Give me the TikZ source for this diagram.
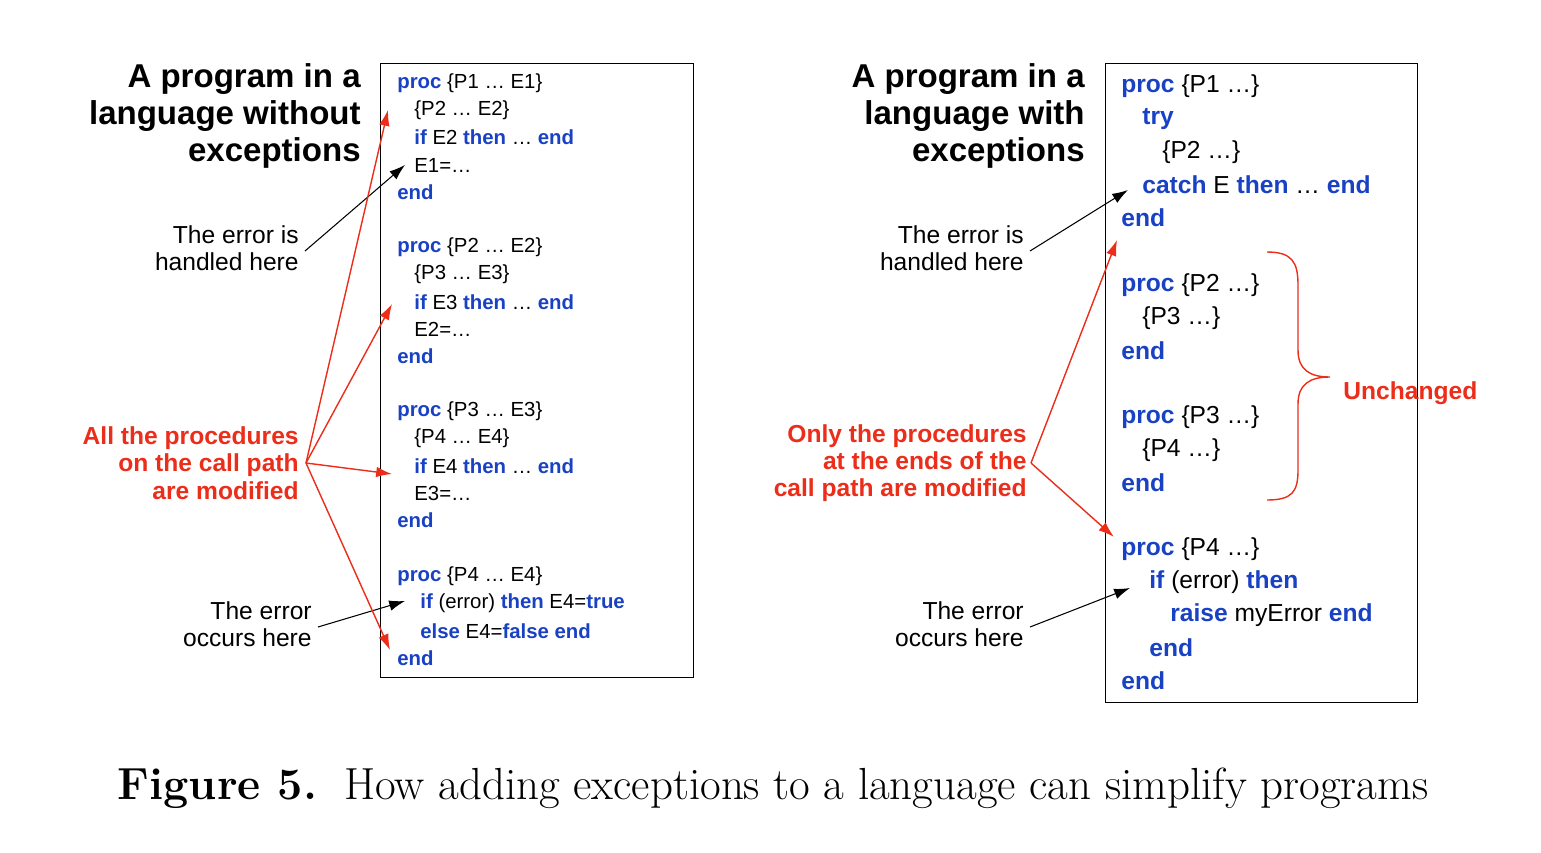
\documentclass[tikz,border=0pt]{standalone}
\usepackage{fontspec}
\newfontfamily\arial{Liberation Sans}
\usetikzlibrary{arrows.meta}
\definecolor{kw}{RGB}{25,65,195}
\definecolor{rd}{RGB}{235,45,25}
\begin{document}
\begin{tikzpicture}[x=0.02cm,y=-0.02cm,
 code/.style={anchor=west,inner sep=0,font=\arial\fontsize{11.6}{13}\selectfont},
 codeb/.style={anchor=west,inner sep=0,font=\arial\fontsize{14}{15}\selectfont},
 ttl/.style={anchor=east,inner sep=0,align=right,font=\arial\bfseries\fontsize{18.8}{20.8}\selectfont},
 lbl/.style={anchor=east,inner sep=0,align=right,font=\arial\fontsize{14}{15.5}\selectfont},
 rlbl/.style={anchor=east,inner sep=0,align=right,text=rd,font=\arial\bfseries\fontsize{14}{15.5}\selectfont},
 blk/.style={-{Latex[length=9pt,width=6pt]},line width=0.6pt},
 red/.style={-{Latex[length=9pt,width=6pt]},line width=0.8pt,draw=rd}]
\newcommand\K[1]{\textcolor{kw}{\textbf{#1}}}
\useasboundingbox (0,0) rectangle (1541,852);
\node[draw,line width=0.6pt,minimum width=313*0.02cm,minimum height=614*0.02cm,anchor=north west,inner sep=0] (boxL) at (380,63) {};
\node[draw,line width=0.6pt,minimum width=312*0.02cm,minimum height=639*0.02cm,anchor=north west,inner sep=0] (boxR) at (1105,63) {};
% left code
\node[code] (l1) at (397,83) {\K{proc} \{P1 … E1\}};
\node[code] (l2) at (414,110) {\{P2 … E2\}};
\node[code] (l3) at (414,137) {\K{if} E2 \K{then} … \K{end}};
\node[code] (l4) at (414,165) {E1=…};
\node[code] (l5) at (397,192) {\K{end}};
\node[code] (l6) at (397,247) {\K{proc} \{P2 … E2\}};
\node[code] (l7) at (414,274) {\{P3 … E3\}};
\node[code] (l8) at (414,302) {\K{if} E3 \K{then} … \K{end}};
\node[code] (l9) at (414,329) {E2=…};
\node[code] (l10) at (397,356) {\K{end}};
\node[code] (l11) at (397,411) {\K{proc} \{P3 … E3\}};
\node[code] (l12) at (414,438) {\{P4 … E4\}};
\node[code] (l13) at (414,466) {\K{if} E4 \K{then} … \K{end}};
\node[code] (l14) at (414,493) {E3=…};
\node[code] (l15) at (397,520) {\K{end}};
\node[code] (l16) at (397,576) {\K{proc} \{P4 … E4\}};
\node[code] (l17) at (420,603) {\K{if} (error) \K{then} E4=\K{true}};
\node[code] (l18) at (420,631) {\K{else} E4=\K{false} \K{end}};
\node[code] (l19) at (397,658) {\K{end}};
% right code
\node[codeb] (r1) at (1121,86) {\K{proc} \{P1 …\}};
\node[codeb] (r2) at (1142,119) {\K{try}};
\node[codeb] (r3) at (1162,152) {\{P2 …\}};
\node[codeb] (r4) at (1142,185) {\K{catch} E \K{then} … \K{end}};
\node[codeb] (r5) at (1121,218) {\K{end}};
\node[codeb] (r6) at (1121,285) {\K{proc} \{P2 …\}};
\node[codeb] (r7) at (1142,318) {\{P3 …\}};
\node[codeb] (r8) at (1121,351) {\K{end}};
\node[codeb] (r9) at (1121,417) {\K{proc} \{P3 …\}};
\node[codeb] (r10) at (1142,450) {\{P4 …\}};
\node[codeb] (r11) at (1121,483) {\K{end}};
\node[codeb] (r12) at (1121,549) {\K{proc} \{P4 …\}};
\node[codeb] (r13) at (1149,582) {\K{if} (error) \K{then}};
\node[codeb] (r14) at (1170,615) {\K{raise} myError \K{end}};
\node[codeb] (r15) at (1149,648) {\K{end}};
\node[codeb] (r16) at (1121,681) {\K{end}};
% titles and labels
\node[ttl] (tL) at (361,116) {A program in a\\language without\\exceptions};
\node[ttl] (tR) at (1085,116) {A program in a\\language with\\exceptions};
\node[lbl] (hL) at (299,248) {The error is\\handled here};
\node[lbl] (oL) at (312,624) {The error\\occurs here};
\node[rlbl] (mL) at (299,463) {All the procedures\\on the call path\\are modified};
\node[lbl] (hR) at (1024,248) {The error is\\handled here};
\node[lbl] (oR) at (1024,624) {The error\\occurs here};
\node[rlbl] (mR) at (1027,463) {Only the procedures\\at the ends of the\\call path are modified};
\node[anchor=west,inner sep=0,text=rd,font=\arial\bfseries\fontsize{14}{15.5}\selectfont] (un) at (1343,393) {Unchanged};
% arrows left
\coordinate (hLs) at (305,251); \coordinate (hLe) at (405,165);
\draw[blk] (hLs) -- (hLe);
\coordinate (oLs) at (318,627); \coordinate (oLe) at (405,601);
\draw[blk] (oLs) -- (oLe);
\coordinate (mLs) at (306,463);
\coordinate (a1) at (388,110); \coordinate (a2) at (392,304);
\coordinate (a3) at (392,474); \coordinate (a4) at (390,650);
\foreach \t in {a1,a2,a3,a4} \draw[red] (mLs) -- (\t);
% arrows right
\coordinate (hRs) at (1030,251); \coordinate (hRe) at (1128,190);
\draw[blk] (hRs) -- (hRe);
\coordinate (oRs) at (1030,627); \coordinate (oRe) at (1130,588);
\draw[blk] (oRs) -- (oRe);
\coordinate (mRs) at (1031,463);
\coordinate (b1) at (1117,240); \coordinate (b2) at (1114,537);
\draw[red] (mRs) -- (b1); \draw[red] (mRs) -- (b2);
% brace
\draw[rd,line width=0.8pt] (1267,252) .. controls (1292,252) and (1298,262) .. (1298,285) -- (1298,350)
  .. controls (1298,370) and (1310,377) .. (1330,377)
  .. controls (1310,377) and (1298,384) .. (1298,404) -- (1298,470)
  .. controls (1298,492) and (1292,500) .. (1267,500);
% caption
\node[inner sep=0,font=\fontsize{25.6}{30}\selectfont] (cap) at (773,788) {\textbf{Figure 5.}\ \ How adding exceptions to a language can simplify programs};
\end{tikzpicture}
\end{document}
